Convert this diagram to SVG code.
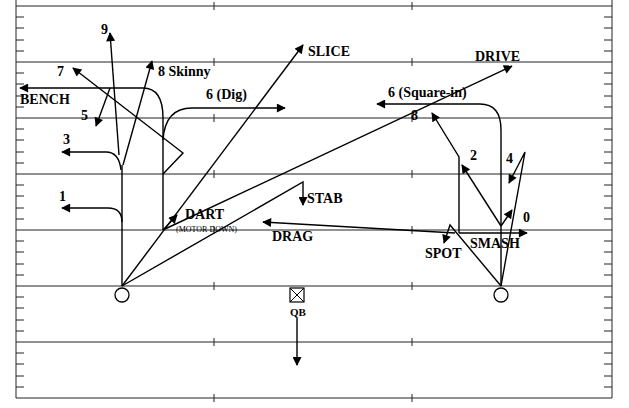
<svg xmlns="http://www.w3.org/2000/svg" width="629" height="408" viewBox="0 0 629 408">
<defs>
<marker id="ah" viewBox="0 0 10 10" refX="9" refY="5" markerWidth="11" markerHeight="9" markerUnits="userSpaceOnUse" orient="auto"><path d="M0,0L10,5L0,10z" fill="#000"/></marker>
</defs>
<style>
.f{stroke:#222;stroke-width:1;fill:none}
.r{stroke:#000;stroke-width:1.4;fill:none}
.a{marker-end:url(#ah)}
text{font-family:"Liberation Serif",serif;font-weight:bold;font-size:14px;fill:#000}
</style>
<rect width="629" height="408" fill="#fff"/>
<g id="field">
<path class="f" d="M16,0V398M612,0V398M16,6H612M16,62H612M16,118H612M16,174H612M16,230H612M16,286H612M16,342H612M16,398H612"/>
<path class="f" id="hash" d="M16,17H24M16,28H24M16,40H24M16,51H24M16,73H24M16,84H24M16,96H24M16,107H24M16,129H24M16,140H24M16,152H24M16,163H24M16,185H24M16,196H24M16,208H24M16,219H24M16,241H24M16,252H24M16,264H24M16,275H24M16,297H24M16,308H24M16,320H24M16,331H24M16,353H24M16,364H24M16,376H24M16,387H24M604,17H612M604,28H612M604,40H612M604,51H612M604,73H612M604,84H612M604,96H612M604,107H612M604,129H612M604,140H612M604,152H612M604,163H612M604,185H612M604,196H612M604,208H612M604,219H612M604,241H612M604,252H612M604,264H612M604,275H612M604,297H612M604,308H612M604,320H612M604,331H612M604,353H612M604,364H612M604,376H612M604,387H612M214,2V10M214,58V66M214,114V122M214,170V178M214,226V234M214,282V290M214,338V346M214,394V402M412,2V10M412,58V66M412,114V122M412,170V178M412,226V234M412,282V290M412,338V346M412,394V402"/>
</g>
<g id="connectors">
<path class="r" d="M122,286V165"/>
<path class="r a" d="M122,222Q122,208 108,208H62"/>
<path class="r a" d="M121,170Q119,152 106,152H62"/>
<path class="r a" d="M119,155L110,33"/>
<path class="r a" d="M123,165L152,61"/>
<path class="r a" d="M110,88L96,126"/>
<path class="r a" d="M163,230V118Q163,88 143,88H20"/>
<path class="r a" d="M163,140Q165,108 192,108H285"/>
<path class="r a" d="M163,174L183,153L73,68"/>
<path class="r a" d="M122,286L303,45"/>
<path class="r a" d="M163,230L177,215"/>
<path class="r a" d="M165,229L512,66"/>
<path class="r a" d="M122,286L303,182V205"/>
<path class="r a" d="M455,233L263,222"/>
<path class="r a" d="M501,286L450,225L444,243"/>
<path class="r a" d="M459,233V157L432,113"/>
<path class="r a" d="M459,233H527"/>
<path class="r a" d="M501,226L462,165"/>
<path class="r a" d="M501,286V130Q501,104 480,104H377"/>
<path class="r a" d="M501,286L525,152L509,183"/>
<path class="r a" d="M501,226L512,210"/>
<path class="r a" d="M297,318V365"/>
</g>
<g id="players">
<circle cx="122" cy="295" r="7" fill="#fff" stroke="#000" stroke-width="1.3"/>
<circle cx="501" cy="295" r="7" fill="#fff" stroke="#000" stroke-width="1.3"/>
<g id="qb"><rect x="290" y="288" width="14" height="14" fill="#fff" stroke="#000" stroke-width="1.2"/><path d="M290,288L304,302M304,288L290,302" stroke="#000" stroke-width="1"/><text x="290" y="316" style="font-size:11px">QB</text></g>
</g>
<g id="labels">
<text x="101" y="34">9</text>
<text x="57" y="76">7</text>
<text x="158" y="76">8 Skinny</text>
<text x="20" y="104">BENCH</text>
<text x="81" y="120">5</text>
<text x="63" y="144">3</text>
<text x="59" y="201">1</text>
<text x="206" y="99">6 (Dig)</text>
<text x="308" y="56">SLICE</text>
<text x="475" y="61">DRIVE</text>
<text x="388" y="97">6 (Square-in)</text>
<text x="411" y="120">8</text>
<text x="470" y="160">2</text>
<text x="506" y="163">4</text>
<text x="523" y="222">0</text>
<text x="307" y="203">STAB</text>
<text x="185" y="219">DART</text>
<text x="176" y="232" style="font-size:8px;font-weight:normal">(MOTOR DOWN)</text>
<text x="272" y="241">DRAG</text>
<text x="425" y="258">SPOT</text>
<text x="470" y="248">SMASH</text>
</g>
</svg>
